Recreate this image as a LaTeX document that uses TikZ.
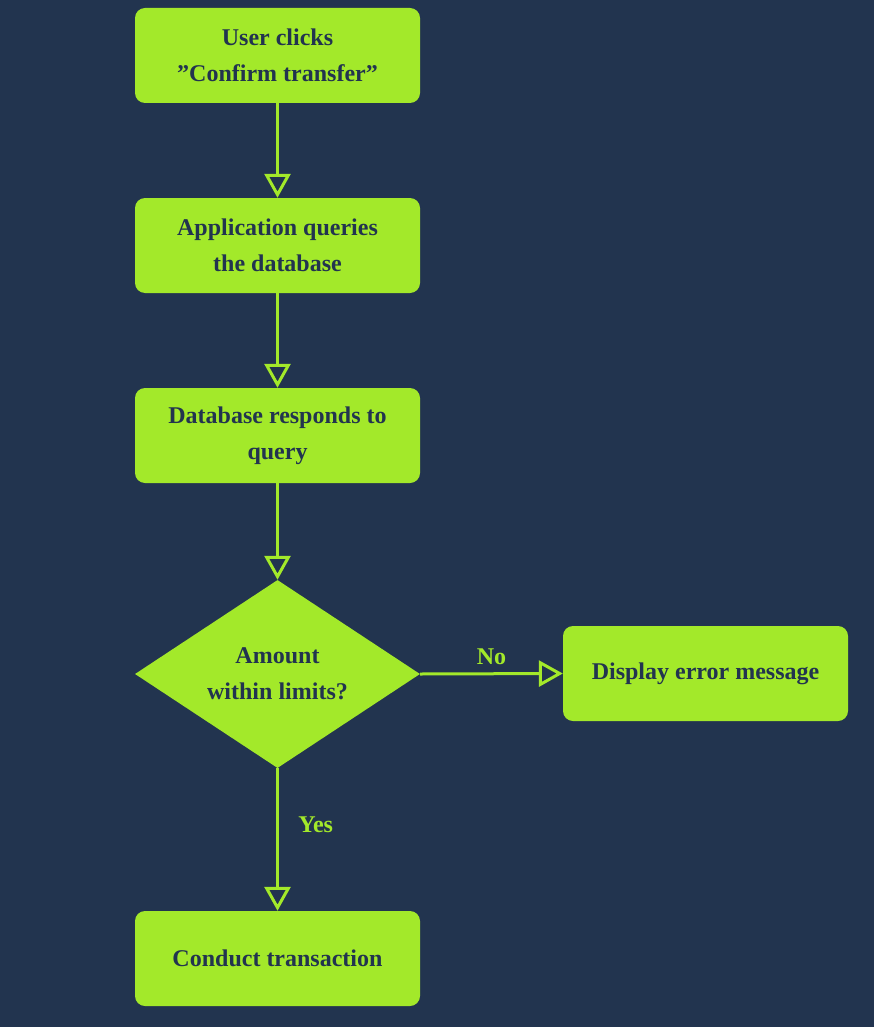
\documentclass[tikz,border=0pt]{standalone}
\usepackage{fontspec}
\setmainfont{Liberation Serif}
\usetikzlibrary{arrows.meta,shapes.geometric}
\definecolor{bg}{HTML}{22344F}
\definecolor{gr}{HTML}{A3E92A}
\begin{document}
\begin{tikzpicture}[x=1pt,y=-1pt,
  box/.style={draw=none,fill=gr,rounded corners=10pt,minimum width=285pt,minimum height=95pt,text=bg,font=\fontsize{24}{36}\selectfont\bfseries,align=center,inner sep=2pt},
  dia/.style={diamond,fill=gr,minimum width=285pt,minimum height=188pt,aspect=1.5,inner sep=0pt,text=bg,font=\fontsize{24}{36}\selectfont\bfseries,align=center},
  arr/.style={draw=gr,line width=3pt,-{Triangle[open,length=24pt,width=26pt,line width=3pt]}},
  lab/.style={text=gr,font=\fontsize{24}{28}\selectfont\bfseries}]
\fill[bg] (0,0) rectangle (874,1027);
\useasboundingbox (0,0) rectangle (874,1027);
\node[box] (a) at (277.5,55.5) {User clicks\\"Confirm transfer"};
\node[box] (b) at (277.5,245.5) {Application queries\\the database};
\node[box] (c) at (277.5,435.5) {Database responds to\\query};
\node[dia] (d) at (277.5,674) {Amount\\within limits?};
\node[box] (e) at (705.5,673.5) {Display error message};
\node[box] (f) at (277.5,958.5) {Conduct transaction};
\draw[arr] (a) -- (b);
\draw[arr] (b) -- (c);
\draw[arr] (c) -- (d);
\draw[arr] (d.east) -- (e.west) node[lab,midway,above=4pt] {No};
\draw[arr] (d.south) -- (f.north) node[lab,pos=0.4,right=16pt] {Yes};
\end{tikzpicture}
\end{document}
